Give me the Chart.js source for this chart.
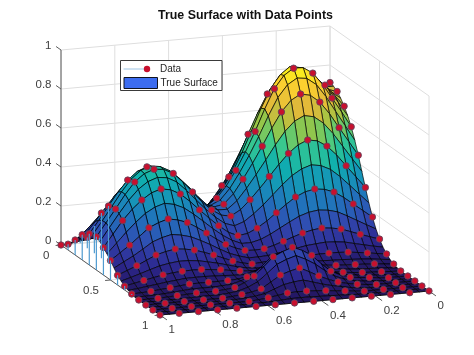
<!DOCTYPE html>
<html>
<head>
<meta charset="utf-8">
<style>
  html, body { margin: 0; padding: 0; background: #fff; }
  canvas { display: block; }
</style>
</head>
<body>
<canvas id="surface-chart" width="474" height="355"></canvas>
<script src="https://cdn.jsdelivr.net/npm/chart.js@4/dist/chart.umd.min.js"></script>
<script>
const titleText = "True Surface with Data Points",
  legendNames = ["Data", "True Surface"],
  uTicks = [0, 0.5, 1],
  vTicks = [0, 0.2, 0.4, 0.6, 0.8, 1],
  zTicks = [0, 0.2, 0.4, 0.6, 0.8, 1];

// heights x1000, rows go along u, columns along v
const zData = [
  [710,700,700,620,480,300,160,90,50,30,25,25,20,15,0],
  [690,720,740,720,580,420,260,140,80,70,85,90,80,55,30],
  [640,757,800,850,738,540,330,200,150,170,210,230,200,140,77],
  [560,716,853,887,790,580,390,256,210,270,350,380,330,232,130],
  [440,590,730,780,697,530,370,250,260,360,440,477,418,294,160],
  [300,420,530,570,510,400,290,215,255,356,460,490,434,304,170],
  [174,250,320,344,312,240,170,140,200,290,380,415,367,270,140],
  [87,120,156,170,153,120,90,90,130,197,260,287,250,170,100],
  [36,50,63,67,65,60,55,46,70,110,144,158,136,90,50],
  [10,20,25,30,40,50,50,40,45,60,70,70,60,40,20],
  [0,5,10,20,40,80,130,100,40,30,30,30,20,10,5],
  [0,0,10,20,60,150,200,160,70,20,10,10,5,0,0],
  [0,0,0,10,30,70,120,92,30,10,0,0,0,0,0],
  [0,0,0,0,10,20,27,26,10,0,0,0,0,0,0],
  [0,0,0,0,0,0,0,0,0,0,0,0,0,0,0],
];

const zSurface = [
  [710,703,700,704,700,669,620,556,480,390,300,223,160,119,90,67,50,37,30,27,25,25,25,23,20,18,15,8,0],
  [704,705,708,716,718,702,666,602,523,441,360,283,214,158,114,82,60,47,43,44,47,47,48,46,43,36,29,22,13],
  [690,705,720,733,740,740,720,659,580,501,420,338,260,194,140,103,80,70,70,77,85,88,90,86,80,68,55,43,30],
  [669,706,742,759,769,789,789,737,662,577,485,389,298,226,170,133,113,109,116,129,143,151,155,148,136,116,94,73,52],
  [640,700,757,783,800,835,850,807,738,645,540,431,330,255,200,166,150,154,170,190,210,224,230,220,200,172,140,108,77],
  [604,678,747,799,838,873,883,846,780,682,571,463,366,289,232,196,181,194,221,252,282,301,308,294,267,230,187,145,105],
  [560,640,716,792,853,885,887,854,790,691,580,480,390,314,256,221,210,232,270,312,350,373,380,363,330,284,232,180,130],
  [504,583,661,741,807,843,849,819,758,667,566,473,389,314,259,236,239,274,322,365,403,428,437,419,381,329,268,206,148],
  [440,515,590,666,730,769,780,752,697,618,530,447,370,299,250,241,260,306,360,404,440,467,477,458,418,361,294,225,160],
  [370,439,508,577,635,672,682,658,610,545,472,402,336,276,237,238,264,312,368,418,461,487,494,476,436,375,305,236,169],
  [300,360,420,480,530,561,570,549,510,458,400,343,290,243,215,224,255,301,356,412,460,485,490,472,434,374,304,237,170],
  [234,283,333,382,423,447,455,439,409,367,319,272,230,195,178,195,232,277,329,382,429,455,461,444,409,357,294,226,158],
  [174,212,250,288,320,338,344,334,312,278,240,202,170,147,140,162,200,243,290,338,380,406,415,399,367,324,270,205,140],
  [126,152,179,206,231,244,249,242,226,201,174,147,125,113,113,134,165,203,245,286,322,344,354,339,311,270,223,172,121],
  [87,103,120,138,156,165,170,164,153,137,120,103,90,87,90,107,130,162,197,230,260,277,287,272,250,210,170,135,100],
  [58,68,79,90,102,107,110,106,101,92,83,75,68,65,65,79,97,123,151,176,199,212,220,208,190,158,127,101,74],
  [36,43,50,57,63,66,67,66,65,63,60,58,55,50,46,56,70,90,110,128,144,153,158,149,136,113,90,70,50],
  [20,26,32,36,39,42,43,45,47,49,49,48,45,41,37,44,54,68,81,92,102,107,108,102,93,78,62,47,33],
  [10,15,20,23,25,28,30,35,40,45,50,51,50,45,40,41,45,52,60,65,70,71,70,66,60,50,40,30,20],
  [3,7,11,13,15,19,23,30,37,48,60,73,85,77,66,50,39,40,43,45,47,47,46,41,36,29,23,16,11],
  [0,2,5,7,10,14,20,29,40,58,80,106,130,118,100,67,40,33,30,30,30,30,30,25,20,15,10,7,5],
  [0,0,2,5,10,14,20,33,52,84,122,152,175,160,138,95,57,37,24,20,18,18,18,14,10,6,3,2,2],
  [0,0,0,4,10,14,20,36,60,102,150,180,200,183,160,113,70,40,20,14,10,10,10,7,5,2,0,0,0],
  [0,0,0,2,5,9,16,28,48,80,118,147,170,155,134,92,53,30,15,8,4,4,4,2,2,0,0,0,0],
  [0,0,0,0,0,4,10,18,30,48,70,96,120,108,92,60,30,18,10,4,0,0,0,0,0,0,0,0,0],
  [0,0,0,0,0,1,4,10,19,29,41,56,70,65,56,37,18,10,4,1,0,0,0,0,0,0,0,0,0],
  [0,0,0,0,0,0,0,4,10,15,20,24,27,27,26,18,10,4,0,0,0,0,0,0,0,0,0,0,0],
  [0,0,0,0,0,0,0,1,3,5,7,8,10,10,10,6,3,1,0,0,0,0,0,0,0,0,0,0,0],
  [0,0,0,0,0,0,0,0,0,0,0,0,0,0,0,0,0,0,0,0,0,0,0,0,0,0,0,0,0],
];

const parula = ["#3e26a8", "#4740e4", "#4667fb", "#2c8ff1", "#1bacd9", "#10bebc", "#3ecb8b", "#99c646", "#e1ba3a", "#fcd02f", "#f9fb15"],
  colorTop = 900;

// camera, plot units of the two hidden scales
const origin = [330, 221],
  uAxis = [99, 70],
  vAxis = [-269, 24],
  zAxis = [0, -195];

const project = (u, v, z) => ({
  x: origin[0] + uAxis[0] * u + vAxis[0] * v + zAxis[0] * z,
  y: origin[1] + uAxis[1] * u + vAxis[1] * v + zAxis[1] * z,
});

const cellCount = zSurface.length - 1,
  dataCount = zData.length - 1;

const surfacePoint = (i, j) => project(i / cellCount, j / cellCount, zSurface[i][j] / 1000);

function hexRgb(hex) {
  return [1, 3, 5].map((s) => parseInt(hex.slice(s, s + 2), 16));
}

function surfaceColor(z) {
  const level = Math.min(Math.max(z / colorTop, 0), 1),
    t = level * (parula.length - 1),
    k = Math.min(Math.floor(t), parula.length - 2),
    a = hexRgb(parula[k]),
    b = hexRgb(parula[k + 1]),
    // the finer mesh of the reference darkens the low ground
    shade = Math.min(1, 0.55 + 0.75 * level),
    mix = a.map((c, n) => Math.round((c + (b[n] - c) * (t - k)) * shade));
  return `rgb(${mix.join(",")})`;
}

function insideQuad(p, quad) {
  let sign = 0;
  for (let n = 0; n < 4; n++) {
    const a = quad[n],
      b = quad[(n + 1) % 4],
      cross = (b.x - a.x) * (p.y - a.y) - (b.y - a.y) * (p.x - a.x);
    if (cross !== 0) {
      if (sign !== 0 && Math.sign(cross) !== sign) return false;
      sign = Math.sign(cross);
    }
  }
  return true;
}

// a cell can only hide what lies behind it in both grid directions
function hidden(p, i0, j0, skipOwn) {
  for (let i = i0; i < cellCount; i++) {
    for (let j = j0; j < cellCount; j++) {
      if (skipOwn && i === i0 && j === j0) continue;
      const quad = [surfacePoint(i, j), surfacePoint(i + 1, j), surfacePoint(i + 1, j + 1), surfacePoint(i, j + 1)];
      if (insideQuad(p, quad)) return true;
    }
  }
  return false;
}

const markerPoints = [],
  stemPoints = [];

zData.forEach((row, a) => {
  row.forEach((value, b) => {
    const u = a / dataCount,
      v = b / dataCount,
      i = a * 2,
      j = b * 2,
      top = project(u, v, value / 1000),
      foot = project(u, v, 0);
    if (!hidden(top, i, j, true)) markerPoints.push(top);
    if (value > 0 && !hidden(foot, i, j, false)) stemPoints.push(foot, top, { x: null, y: null });
  });
});

const surfacePlugin = {
  id: "surface3d",
  beforeDatasetsDraw(chart) {
    const { ctx, scales } = chart,
      px = (p) => [scales.x.getPixelForValue(p.x), scales.y.getPixelForValue(p.y)];

    const line = (a, b, color, width) => {
      ctx.strokeStyle = color;
      ctx.lineWidth = width;
      ctx.beginPath();
      ctx.moveTo(...px(a));
      ctx.lineTo(...px(b));
      ctx.stroke();
    };

    const gridColor = "#dedede",
      axisColor = "#5a5a5a";

    zTicks.forEach((z) => {
      line(project(0, 1, z), project(0, 0, z), gridColor, 1);
      line(project(0, 0, z), project(1, 0, z), gridColor, 1);
    });
    vTicks.forEach((v) => {
      line(project(0, v, 0), project(0, v, 1), gridColor, 1);
      line(project(0, v, 0), project(1, v, 0), gridColor, 1);
    });
    uTicks.forEach((u) => {
      line(project(u, 0, 0), project(u, 0, 1), gridColor, 1);
      line(project(u, 0, 0), project(u, 1, 0), gridColor, 1);
    });

    line(project(0, 1, 0), project(0, 1, 1), axisColor, 1);
    line(project(0, 1, 0), project(1, 1, 0), axisColor, 1);
    line(project(1, 1, 0), project(1, 0, 0), axisColor, 1);

    zTicks.forEach((z) => line(project(0, 1, z), project(-0.05, 1, z), axisColor, 1));
    uTicks.forEach((u) => line(project(u, 1, 0), project(u, 1.02, 0), axisColor, 1));
    vTicks.forEach((v) => line(project(1, v, 0), project(1.07, v, 0), axisColor, 1));

    ctx.font = "11.5px 'Liberation Sans', Arial, sans-serif";
    ctx.fillStyle = "#404040";
    ctx.textBaseline = "middle";
    ctx.textAlign = "right";
    zTicks.forEach((z) => {
      const [x, y] = px(project(0, 1, z));
      ctx.fillText(String(z), x - 9.5, y - 4.5);
    });
    uTicks.forEach((u) => {
      const [x, y] = px(project(u, 1, 0));
      ctx.fillText(String(u), x - 11.5, y + 11);
    });
    ctx.textAlign = "left";
    vTicks.forEach((v) => {
      const [x, y] = px(project(1, v, 0));
      ctx.fillText(String(v), x + 8.5, y + 15);
    });

    // back to front so the hills cover what is behind them
    ctx.lineWidth = 0.8;
    ctx.strokeStyle = "rgba(0,0,0,0.85)";
    ctx.lineJoin = "round";
    for (let i = 0; i < cellCount; i++) {
      for (let j = 0; j < cellCount; j++) {
        const corners = [[i, j], [i + 1, j], [i + 1, j + 1], [i, j + 1]],
          mean = corners.reduce((s, c) => s + zSurface[c[0]][c[1]], 0) / 4;
        ctx.fillStyle = surfaceColor(mean);
        ctx.beginPath();
        corners.forEach((c, n) => {
          const [x, y] = px(surfacePoint(c[0], c[1]));
          if (n === 0) ctx.moveTo(x, y);
          else ctx.lineTo(x, y);
        });
        ctx.closePath();
        ctx.fill();
        ctx.stroke();
      }
    }
  },
  afterDatasetsDraw(chart) {
    const { ctx } = chart;
    ctx.save();
    ctx.fillStyle = "#fff";
    ctx.strokeStyle = "#3a3a3a";
    ctx.lineWidth = 1;
    ctx.fillRect(120.5, 60.5, 101.5, 30);
    ctx.strokeRect(120.5, 60.5, 101.5, 30);

    ctx.strokeStyle = "#9ec5e5";
    ctx.beginPath();
    ctx.moveTo(123.5, 69);
    ctx.lineTo(147, 69);
    ctx.stroke();
    ctx.fillStyle = "#c8102e";
    ctx.beginPath();
    ctx.arc(147, 69, 3.2, 0, Math.PI * 2);
    ctx.fill();

    ctx.fillStyle = "#3c6cf0";
    ctx.strokeStyle = "#10131f";
    ctx.fillRect(124, 77.5, 33.5, 11);
    ctx.strokeRect(124, 77.5, 33.5, 11);

    ctx.fillStyle = "#262626";
    ctx.font = "10px 'Liberation Sans', Arial, sans-serif";
    ctx.textAlign = "left";
    ctx.textBaseline = "middle";
    ctx.fillText(legendNames[0], 160, 69.5);
    ctx.fillText(legendNames[1], 160.5, 83.5);
    ctx.restore();
  },
};

new Chart(document.getElementById("surface-chart").getContext("2d"), {
  type: "scatter",
  data: {
    datasets: [
      {
        label: "Stems",
        data: stemPoints,
        showLine: true,
        spanGaps: false,
        borderColor: "#4f9bd0",
        borderWidth: 1.2,
        pointRadius: 0,
        clip: false,
      },
      {
        label: legendNames[0],
        data: markerPoints,
        backgroundColor: "#c8102e",
        borderColor: "rgba(95,70,95,0.85)",
        borderWidth: 1,
        pointRadius: 3.2,
        clip: false,
      },
    ],
  },
  options: {
    responsive: false,
    animation: false,
    events: [],
    layout: { autoPadding: false, padding: { left: 17, right: 0, top: 0, bottom: 0 } },
    scales: {
      x: { type: "linear", display: false, min: 17, max: 474 },
      y: { type: "linear", display: false, min: 23, max: 355, reverse: true },
    },
    plugins: {
      legend: { display: false },
      tooltip: { enabled: false },
      title: {
        display: true,
        text: titleText,
        color: "#111",
        font: { family: "'Liberation Sans', Arial, sans-serif", size: 12.4, weight: "bold", lineHeight: 1.21 },
        padding: { top: 8, bottom: 0 },
      },
    },
  },
  plugins: [surfacePlugin],
});
</script>
</body>
</html>
